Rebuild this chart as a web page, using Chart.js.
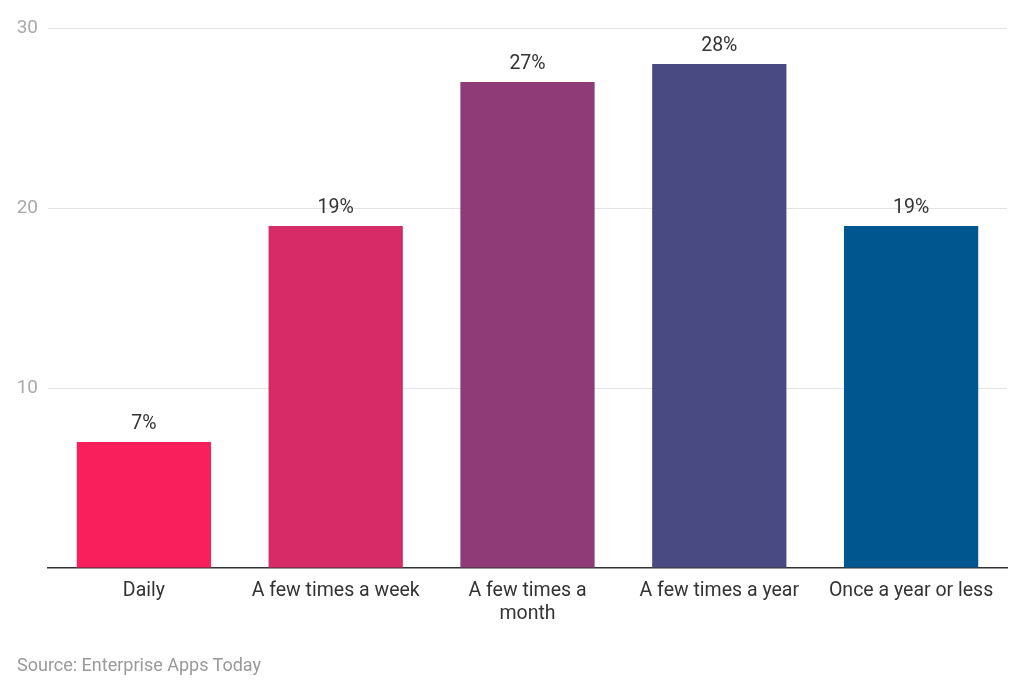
<!DOCTYPE html>
<html>
<head>
<meta charset="utf-8">
<script src="https://cdn.jsdelivr.net/npm/chart.js@4"></script>
<style>
  html, body { margin: 0; padding: 0; background: #fff; }
  #wrap { position: relative; width: 1024px; height: 694px; }
  #source { position: absolute; left: 17px; top: 654px; font: 18px Roboto, sans-serif; color: #999; }
</style>
</head>
<body>
<div id="wrap">
  <canvas id="chart" width="1024" height="694"></canvas>
  <div id="source">Source: Enterprise Apps Today</div>
</div>
<script>
// data
const categories = ['Daily', 'A few times a week', ['A few times a', 'month'], 'A few times a year', 'Once a year or less'];
const values = [7, 19, 27, 28, 19];
const barColors = ['#F91F5C', '#D62B66', '#8E3B77', '#4A4A82', '#00568F'];
const yTicks = [0, 10, 20, 30];

// label di atas tiap batang
const valueLabels = {
  id: 'valueLabels',
  afterDatasetsDraw(chart) {
    const ctx = chart.ctx;
    const meta = chart.getDatasetMeta(0);
    ctx.save();
    ctx.font = '19.5px Roboto, sans-serif';
    ctx.fillStyle = '#333';
    ctx.textAlign = 'center';
    ctx.textBaseline = 'bottom';
    meta.data.forEach((bar, i) => {
      ctx.fillText(values[i] + '%', bar.x, bar.y - 8);
    });
    ctx.restore();
  }
};

new Chart(document.getElementById('chart'), {
  type: 'bar',
  data: {
    labels: categories,
    datasets: [{
      data: values,
      backgroundColor: barColors,
      borderWidth: 0,
      categoryPercentage: 1,
      barPercentage: 0.7
    }]
  },
  options: {
    responsive: false,
    animation: false,
    layout: { padding: { top: 28, right: 17, left: 0, bottom: 0 } },
    plugins: { legend: { display: false }, tooltip: { enabled: false } },
    scales: {
      x: {
        grid: { display: false },
        border: { color: '#333', width: 1.5 },
        ticks: { color: '#333', font: { family: 'Roboto', size: 19.5, lineHeight: 1.15 }, padding: 4, maxRotation: 0, autoSkip: false },
        afterFit: s => { s.height = 126; }
      },
      y: {
        min: yTicks[0],
        max: yTicks[yTicks.length - 1],
        afterBuildTicks: s => { s.ticks = yTicks.map(v => ({ value: v })); },
        grid: { color: ctx => ctx.tick && ctx.tick.value === 0 ? 'rgba(0,0,0,0)' : '#e3e3e3', drawTicks: false, lineWidth: 1 },
        border: { display: false },
        ticks: {
          color: '#aaa',
          font: { family: 'Roboto', size: 19 },
          padding: 10,
          callback: v => v === 0 ? '' : v
        },
        afterFit: s => { s.width = 48; }
      }
    }
  },
  plugins: [valueLabels]
});
</script>
</body>
</html>
